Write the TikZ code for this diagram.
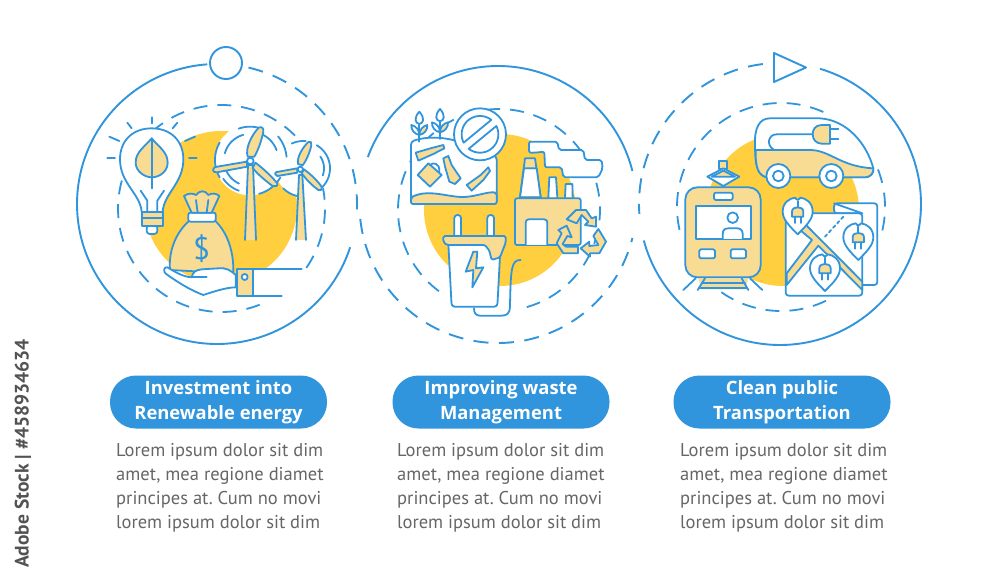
\documentclass[tikz,border=0pt]{standalone}
\usepackage{fontspec}
\setmainfont{PT Sans}
\newfontfamily\headfont{Open Sans}
\definecolor{bl}{HTML}{3095DC}
\definecolor{yl}{HTML}{FFCF40}
\definecolor{ly}{HTML}{F8DC94}
\definecolor{gr}{HTML}{666666}
\frenchspacing
\newcommand{\arcp}[5]{plot[domain=#4:#5,samples=120] ({#1+#2*cos(\x)},{#3-#2*sin(\x)})}
\newcommand{\arcq}[5]{plot[domain=#4:#5,samples=60] ({#1+#3*cos(\x)},{#2-#3*sin(\x)})}
\tikzset{
 solidring/.style={draw=bl,line width=1.9pt},
 dashring/.style={draw=bl,line width=1.9pt,dash pattern=on 15pt off 10.5pt},
 innerring/.style={draw=bl,line width=1.8pt,dash pattern=on 14pt off 10pt},
 ic/.style={draw=bl,line width=1.8pt,line join=round,line cap=round},
 icw/.style={ic,fill=white},
 icy/.style={ic,fill=ly},
 pill/.style={fill=bl,rounded corners=26pt,minimum width=217pt,minimum height=53pt,inner sep=0pt,text=white,align=center,font=\fontsize{18.4}{25}\selectfont\headfont\bfseries},
 body/.style={anchor=north west,inner sep=0pt,align=left,text=gr,font=\fontsize{18.5}{24}\selectfont},
 zoomA/.style={shift={(70,40)},x=0.33333pt,y=-0.33333pt},
 zoomB/.style={shift={(350,60)},x=0.33333pt,y=-0.33333pt},
 zoomC/.style={shift={(630,40)},x=0.33333pt,y=-0.33333pt}
}
\begin{document}
\begin{tikzpicture}[x=1pt,y=-1pt]
\useasboundingbox (0,0) rectangle (1000,583);
\fill[white] (0,0) rectangle (1000,583);
% ---- rings
\draw[solidring] \arcp{217}{140}{204}{94}{342};
\draw[dashring] \arcp{217}{140}{204}{77}{-3};
\draw[solidring] \arcp{498}{138.5}{204.5}{14}{160};
\draw[dashring] \arcp{498}{138.5}{204.5}{186}{346};
\draw[solidring] \arcp{780}{141}{204}{195}{433.5};
\draw[dashring] \arcp{780}{141}{204}{97}{184};
\node[circle,draw=bl,line width=1.9pt,fill=white,minimum size=32pt,inner sep=0pt] (dotA) at (226,63) {};
\draw[solidring,fill=white,line join=round] (774,53) -- (806,67.5) -- (774,82) -- cycle;
% ---- yellow discs
\fill[yl] (221,207) circle[radius=76];
\fill[yl] (500,210) circle[radius=76];
\fill[yl] (783,210) circle[radius=76];
% ---- inner rings
\draw[innerring] \arcp{221.5}{103.5}{208.5}{-35}{295};
\draw[innerring] \arcp{499}{101}{210}{-74}{234};
\draw[innerring] \arcp{781}{104}{207}{66}{193};
\draw[innerring] \arcp{781}{104}{207}{235}{296};
\draw[innerring] \arcp{781}{104}{207}{-13}{22};

% ================= ICON 1
\begin{scope}[zoomA]
 \fill[white] (540,360) circle[radius=106];
 \fill[white] (700,385) circle[radius=84];
 % wind arcs
 \draw[ic] \arcq{540}{360}{100}{75}{110};
 \draw[ic] \arcq{540}{360}{105}{150}{210};
 \draw[ic] \arcq{540}{360}{78}{105}{165};
 \draw[ic] \arcq{540}{360}{85}{20}{65};
 \draw[ic] \arcq{540}{360}{110}{5}{40};
 \draw[ic] \arcq{540}{360}{78}{205}{245};
 \draw[ic] \arcq{540}{360}{105}{-75}{-30};
 \draw[ic] \arcq{540}{360}{98}{215}{250};
 \draw[ic] \arcq{700}{385}{80}{-50}{60};
 \draw[ic] \arcq{700}{385}{62}{-20}{35};
 \draw[ic] \arcq{700}{385}{82}{85}{115};
 \draw[ic] \arcq{700}{385}{85}{-135}{-100};
 % bulb
 \draw[icw] (215,515) .. controls (210,460) and (150,430) .. (150,358) .. controls (150,300) and (190,265) .. (245,265) .. controls (300,265) and (340,300) .. (340,358) .. controls (340,430) and (282,460) .. (278,515);
 \draw[icy] (245,295) .. controls (225,320) and (197,335) .. (197,368) .. controls (197,395) and (225,412) .. (245,412) .. controls (268,412) and (293,395) .. (293,368) .. controls (293,335) and (265,320) .. (245,295) -- cycle;
 \draw[ic] (245,295) -- (245,445);
 \draw[ic] (232,515) -- (232,482) -- (212,452);
 \draw[ic] (262,515) -- (262,482) -- (282,452);
 \draw[icw,rounded corners=3pt] (230,555) rectangle (262,582);
 \draw[icy] (215,515) -- (278,515) -- (278,558) -- (215,558) -- cycle;
 \draw[ic] (215,535) -- (278,535);
 \foreach \a/\b/\c/\d in {112/355/135/355,118/290/148/303,172/248/185/265,247/232/247/250,322/248/308/265,345/303/375/290,357/355/380/355}
   \draw[ic] (\a,\b) -- (\c,\d);
 % big turbine
 \draw[icy] (525,600) -- (534,375) -- (549,375) -- (558,600);
 \draw[icy] (533,350) .. controls (525,325) and (545,285) .. (566,263) .. controls (575,258) and (582,265) .. (580,275) .. controls (575,300) and (565,330) .. (553,350) -- cycle;
 \draw[icy] (530,365) -- (436,381) .. controls (426,385) and (427,398) .. (440,397) -- (532,380) -- cycle;
 \draw[icy] (556,368) .. controls (580,385) and (610,415) .. (622,430) .. controls (625,438) and (615,442) .. (608,438) .. controls (590,425) and (565,405) .. (548,384) -- cycle;
 \draw[icw] (541,363) circle[radius=10];
 % small turbine
 \draw[icy] (678,600) -- (687,405) -- (697,405) -- (708,600);
 \draw[icy] (684,372) .. controls (680,350) and (700,320) .. (715,306) .. controls (722,302) and (726,308) .. (724,316) .. controls (720,335) and (710,360) .. (698,376) -- cycle;
 \draw[icy] (682,385) -- (620,396) .. controls (612,398) and (616,408) .. (622,408) -- (682,398) -- cycle;
 \draw[icy] (702,388) .. controls (725,405) and (745,425) .. (756,442) .. controls (758,450) and (750,453) .. (745,450) .. controls (728,438) and (710,420) .. (695,400) -- cycle;
 \draw[icw] (691,388) circle[radius=8];
 % bag
 \draw[icy] (300,690) .. controls (295,630) and (320,575) .. (358,542) -- (435,542) .. controls (470,575) and (492,630) .. (490,700) -- cycle;
 \draw[icw,rounded corners=2pt] (355,518) rectangle (437,545);
 \draw[icy] (365,518) -- (342,468) .. controls (355,458) and (370,460) .. (378,465) .. controls (390,450) and (405,450) .. (415,465) .. controls (425,458) and (440,460) .. (448,468) -- (425,518) -- cycle;
 \draw[ic] (383,518) -- (378,480);
 \draw[ic] (410,518) -- (415,480);
 \node[text=bl,inner sep=0pt,font=\fontsize{31}{31}\selectfont] (dollar) at (395,627) {\$};
 % hand
 \fill[white] (548,690) rectangle (660,766);
 \draw[icw] (497,705) .. controls (480,690) and (470,683) .. (445,685) -- (395,688) .. controls (375,690) and (368,698) .. (365,712) .. controls (335,710) and (310,692) .. (292,682) .. controls (282,680) and (280,692) .. (286,700) .. controls (320,725) and (360,750) .. (400,765) .. controls (430,755) and (470,742) .. (497,742) -- cycle;
 \draw[ic] (365,712) -- (410,712);
 \draw[icy] (500,688) rectangle (548,768);
 \draw[icw] (524,711) circle[radius=9];
 \draw[ic] (548,688) -- (695,688);
 \draw[ic] (548,768) -- (635,768);
\end{scope}

% ================= ICON 2
\begin{scope}[zoomB]
 % trash box
 \draw[icw,rounded corners=3pt] (183,432) -- (183,245) .. controls (240,225) and (300,235) .. (340,250) -- (440,290) -- (440,432) -- cycle;
 \draw[icy,rounded corners=2pt] (183,412) .. controls (240,385) and (300,415) .. (355,410) .. controls (390,405) and (415,395) .. (440,398) -- (440,432) -- (183,432) -- cycle;
 % plants
 \foreach \px/\py in {208/0,270/-8}{
  \begin{scope}[shift={(\px,\py)}]
   \draw[ic] (0,245) -- (0,195);
   \draw[icw] (0,155) .. controls (-18,175) and (-12,190) .. (0,192) .. controls (12,190) and (18,175) .. (0,155) -- cycle;
   \draw[icw] (0,225) .. controls (-15,222) and (-25,210) .. (-24,195) .. controls (-10,198) and (0,210) .. (0,225);
   \draw[icy] (0,225) .. controls (15,222) and (25,210) .. (24,195) .. controls (10,198) and (0,210) .. (0,225);
  \end{scope}}
 % no sign
 \draw[icw] (390,223) circle[radius=78];
 \draw[ic] \arcq{390}{223}{55}{52}{207} -- cycle;
 \draw[ic] \arcq{390}{223}{55}{-128}{27} -- cycle;
 % bottles
 \draw[icy] (197,278) -- (245,264) -- (280,255) -- (283,265) -- (250,282) -- (205,302) -- cycle;
 \draw[icy] (203,345) -- (235,310) -- (275,345) -- (240,380) -- cycle;
 \draw[ic] (240,315) .. controls (250,305) and (270,310) .. (268,335);
 \draw[icy] (280,295) -- (295,288) -- (305,315) -- (332,355) -- (315,372) -- (298,365) -- (285,320) -- cycle;
 \draw[icy] (350,375) -- (392,345) -- (415,322) -- (420,333) -- (400,360) -- (365,392) -- cycle;
 % smoke
 \draw[icw,rounded corners=2pt] (555,278) -- (537,278) -- (537,245) -- (622,245) -- (627,270) -- (700,270) -- (705,300) -- (755,300) -- (758,325) -- (745,352) -- (640,352) -- (635,322) -- (585,322) -- (583,275) -- cycle;
 % factory
 \draw[icy] (510,412) -- (525,295) -- (555,295) -- (572,412) -- cycle;
 \fill[white] (521,328) -- (560,328) -- (570,408) -- (513,408) -- cycle;
 \draw[ic] (510,412) -- (522,325) -- (560,325) -- (572,412);
 \draw[icw] (595,412) -- (598,352) -- (618,352) -- (622,412);
 \draw[icw] (645,412) -- (647,372) -- (667,372) -- (668,412);
 \draw[icy,rounded corners=2pt] (495,555) -- (495,415) -- (692,415) -- (692,555) -- cycle;
 \draw[icw,rounded corners=3pt] (527,555) -- (527,478) -- (592,478) -- (592,555);
 % recycle
 \draw[icy] (650,478) -- (678,450) -- (708,450) -- (725,475) -- (738,470) -- (738,500) -- (705,495) -- (715,485) -- (695,465) -- (680,490) -- cycle;
 \draw[icy] (650,497) -- (665,532) -- (652,528) -- (638,552) -- (648,560) -- (684,560) -- (684,580) -- (640,580) -- (620,550) -- (635,520) -- (625,510) -- cycle;
 \draw[icy] (745,507) -- (768,545) -- (748,580) -- (720,580) -- (720,590) -- (692,565) -- (718,545) -- (718,558) -- (745,555) -- (730,528) -- cycle;
 % plug
 \draw[ic] (512,600) .. controls (485,600) and (482,620) .. (480,740) .. controls (480,760) and (470,767) .. (455,767) -- (390,767) .. controls (378,767) and (372,760) .. (372,745);
 \draw[icw,rounded corners=3pt] (313,530) -- (313,465) -- (333,465) -- (333,530);
 \draw[icw,rounded corners=3pt] (412,530) -- (412,465) -- (432,465) -- (432,530);
 \draw[icw,rounded corners=3pt] (295,550) -- (305,740) -- (442,740) -- (452,550) -- cycle;
 \draw[icy,rounded corners=1.5pt] (280,528) -- (467,528) -- (467,548) -- (450,592) -- (425,600) -- (418,572) -- (405,555) -- (290,555) -- (280,545) -- cycle;
 \draw[icy] (370,575) -- (347,635) -- (370,630) -- (367,682) -- (400,622) -- (378,625) -- (382,575) -- cycle;
\end{scope}

% ================= ICON 3
\begin{scope}[zoomC]
 % car
 \draw[icw] (375,320) .. controls (372,260) and (390,235) .. (420,235) -- (570,235) .. controls (650,240) and (710,310) .. (730,385) .. controls (732,400) and (720,412) .. (705,412) -- (410,412) .. controls (385,405) and (376,385) .. (375,320) -- cycle;
 \draw[icy] (377,330) -- (540,330) .. controls (600,330) and (630,380) .. (730,385) .. controls (732,400) and (720,412) .. (705,412) -- (410,412) .. controls (385,405) and (376,385) .. (377,330) -- cycle;
 \draw[icw] (445,408) circle[radius=36];
 \draw[icw] (445,408) circle[radius=16];
 \draw[icw] (604,408) circle[radius=36];
 \draw[icw] (604,408) circle[radius=16];
 \draw[ic] (548,283) -- (440,283) .. controls (415,283) and (408,315) .. (430,328);
 \draw[ic] (600,268) -- (625,268);
 \draw[ic] (600,297) -- (625,297);
 \draw[icy] (600,255) -- (575,255) .. controls (555,255) and (548,270) .. (548,283) .. controls (548,300) and (560,311) .. (575,311) -- (600,311) -- cycle;
 % train
 \fill[ly] (205,715) -- (355,715) -- (345,748) -- (215,748) -- cycle;
 \draw[ic] (160,750) -- (197,715);
 \draw[ic] (203,750) -- (225,715);
 \draw[ic] (335,715) -- (355,750);
 \draw[ic] (360,715) -- (397,750);
 \draw[ic] (216,728) -- (345,728);
 \draw[ic] (208,745) -- (350,745);
 \draw[icy] (268,388) -- (268,362) -- (290,362) -- (290,388) -- cycle;
 \draw[icw] (232,410) -- (280,385) -- (328,410) -- (280,438) -- cycle;
 \draw[icy] (245,410) -- (280,392) -- (315,410) -- cycle;
 \draw[icy,rounded corners=12pt] (166,712) -- (166,442) -- (392,442) -- (392,712) -- cycle;
 \draw[icw] (197,498) rectangle (362,597);
 \draw[icw] (308,533) circle[radius=16];
 \draw[icw] (278,597) -- (278,582) .. controls (278,570) and (285,565) .. (295,565) -- (322,565) .. controls (332,565) and (338,572) .. (338,582) -- (338,597);
 \draw[icw,rounded corners=2pt] (252,458) rectangle (308,480);
 \draw[icw,rounded corners=1.5pt] (208,628) rectangle (255,655);
 \draw[icw,rounded corners=1.5pt] (302,628) rectangle (348,655);
 % map
 \draw[icw,rounded corners=3pt] (612,490) -- (742,490) -- (742,735) -- (690,735) -- (690,520) -- (612,520) -- cycle;
 \draw[ic] (612,490) -- (697,520);
 \draw[icw,rounded corners=3pt] (467,520) -- (697,520) -- (697,767) -- (467,767) -- cycle;
 \draw[icy] (528,555) -- (697,725) -- (697,750) -- (565,617) -- (470,735) -- (470,700) -- (546,600) -- (510,570) -- cycle;
 \draw[ic,dashed] (585,590) -- (640,530);
 \foreach \mx/\my in {503/473,685/550,585/643}{
  \begin{scope}[shift={(\mx,\my)}]
   \draw[icw] (0,110) .. controls (-25,85) and (-45,65) .. (-45,42) .. controls (-45,15) and (-25,2) .. (-8,0) .. controls (-2,8) and (2,8) .. (8,0) .. controls (25,2) and (45,15) .. (45,42) .. controls (45,65) and (25,85) .. (0,110) -- cycle;
   \draw[ic] (0,10) -- (0,30);
   \draw[icy] (-17,57) -- (-17,42) .. controls (-17,32) and (-8,29) .. (0,29) .. controls (8,29) and (17,32) .. (17,42) -- (17,57) -- cycle;
   \draw[ic] (-9,57) -- (-9,76);
   \draw[ic] (9,57) -- (9,76);
  \end{scope}}
\end{scope}

% ================= TEXT
\node[pill] (pA) at (218.5,402) {Investment into\\Renewable energy};
\node[pill] (pB) at (501,402) {Improving waste\\Management};
\node[pill] (pC) at (782,402) {Clean public\\Transportation};
\node[body] (tA) at (116,443) {Lorem ipsum dolor sit dim\\amet, mea regione diamet\\principes at. Cum no movi\\lorem ipsum dolor sit dim};
\node[body] (tB) at (397,443) {Lorem ipsum dolor sit dim\\amet, mea regione diamet\\principes at. Cum no movi\\lorem ipsum dolor sit dim};
\node[body] (tC) at (680,443) {Lorem ipsum dolor sit dim\\amet, mea regione diamet\\principes at. Cum no movi\\lorem ipsum dolor sit dim};
\node[rotate=90,anchor=west,inner sep=0pt,text=gr!80!black,font=\fontsize{19.5}{20}\selectfont\bfseries] (side) at (23,568) {Adobe Stock | \#458934634};
\end{tikzpicture}
\end{document}
